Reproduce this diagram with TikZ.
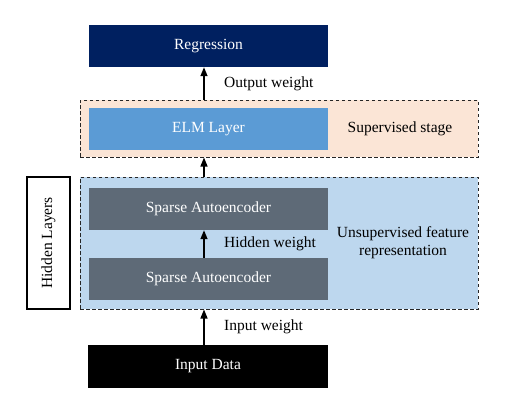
\documentclass[tikz,border=0pt]{standalone}
\usepackage{fontspec}
\setmainfont{Liberation Serif}
\usetikzlibrary{arrows.meta}

\definecolor{navy}{HTML}{002060}
\definecolor{elmblue}{HTML}{5B9BD5}
\definecolor{saegray}{HTML}{5E6A77}
\definecolor{peach}{HTML}{FBE5D6}
\definecolor{paleblue}{HTML}{BDD7EE}

\tikzset{
  layerbox/.style={minimum width=239pt, minimum height=42pt, text=white, inner sep=0pt},
  stagebox/.style={draw=black!85, dash pattern=on 3.5pt off 2.5pt, line width=1pt, inner sep=0pt},
  arr/.style={line width=1.4pt, -{Triangle[width=7pt,length=9pt]}},
  wlabel/.style={right, inner sep=0pt}
}

\begin{document}
\begin{tikzpicture}[x=1pt, y=-1pt, font=\fontsize{15.5}{18}\selectfont]
  % Canvas
  \useasboundingbox (0,0) rectangle (511,410);

  % Stage boxes in the background
  \node[stagebox, fill=peach, minimum width=398pt, minimum height=57pt] (sup) at (279,128.5) {};
  \node[stagebox, fill=paleblue, minimum width=398pt, minimum height=132pt] (unsup) at (279,243) {};
  \node[draw, line width=1.8pt, minimum width=43pt, minimum height=132pt, inner sep=0pt] (hidden) at (48.5,243) {};
  \node[rotate=90] at (hidden.center) {Hidden Layers};

  % Layers
  \node[layerbox, fill=navy] (reg) at (208.5,46) {Regression};
  \node[layerbox, fill=elmblue] (elm) at (208.5,129) {ELM Layer};
  \node[layerbox, fill=saegray] (sae2) at (208.5,209) {Sparse Autoencoder};
  \node[layerbox, fill=saegray] (sae1) at (208.5,279) {Sparse Autoencoder};
  \node[layerbox, fill=black, minimum width=240pt, minimum height=43pt] (input) at (208,366.5) {Input Data};

  % Stage texts
  \node (suptxt) at (400,129) {Supervised stage};
  \node[align=center] (unsuptxt) at (403,243) {Unsupervised feature\\representation};

  % Connectors
  \coordinate (ax) at (204,0);
  \draw[arr] (sup.north -| ax) -- (reg.south -| ax);
  \draw[arr] (unsup.north -| ax) -- (sup.south -| ax);
  \draw[arr] (sae1.north -| ax) -- (sae2.south -| ax);
  \draw[arr] (input.north -| ax) -- (unsup.south -| ax);

  % Weight labels
  \node[wlabel] (outw) at (224,84) {Output weight};
  \node[wlabel] (hidw) at (224,244) {Hidden weight};
  \node[wlabel] (inw) at (224,327) {Input weight};
\end{tikzpicture}
\end{document}
